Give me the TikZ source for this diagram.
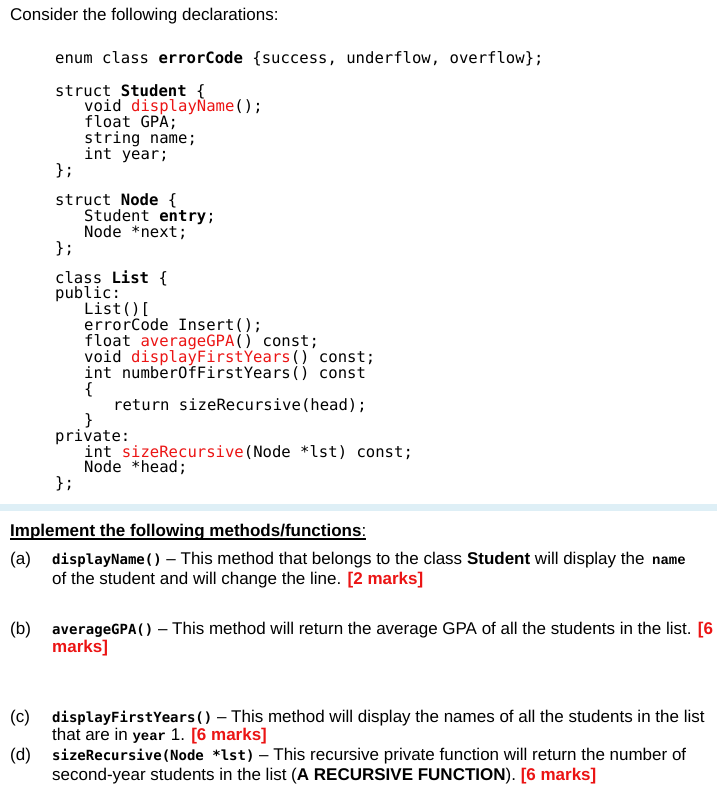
\documentclass[tikz,border=0pt]{standalone}
\usepackage{fontspec}
\setmainfont{Liberation Sans}
\newfontfamily\cmmono{DejaVu Sans Mono}
\newfontfamily\crmono{Liberation Mono}
\definecolor{rd}{RGB}{235,20,20}
\definecolor{band}{RGB}{222,239,246}
\begin{document}
\begin{tikzpicture}[x=1pt,y=-1pt,
  cl/.style={anchor=base west,inner sep=0pt,font=\cmmono\fontsize{15.6}{16}\selectfont},
  tx/.style={anchor=base west,inner sep=0pt,font=\fontsize{17}{19}\selectfont}]
\useasboundingbox (0,0) rectangle (717,796);
\fill[band] (0,504) rectangle (717,511);
\node[tx] (t0) at (10,20) {Consider the following declarations:};
% code
\node[cl] (c1) at (55,63) {enum class \textbf{errorCode} \{success, underflow, overflow\};};
\node[cl] (c2) at (55,96) {struct \textbf{Student} \{};
\node[cl] (c3) at (84,111) {void \textcolor{rd}{displayName}();};
\node[cl] (c4) at (84,127) {float GPA;};
\node[cl] (c5) at (84,143) {string name;};
\node[cl] (c6) at (84,159) {int year;};
\node[cl] (c7) at (55,175) {\};};
\node[cl] (c8) at (55,205) {struct \textbf{Node} \{};
\node[cl] (c9) at (84,221) {Student \textbf{entry};};
\node[cl] (c10) at (84,237) {Node *next;};
\node[cl] (c11) at (55,253) {\};};
\node[cl] (c12) at (55,283) {class \textbf{List} \{};
\node[cl] (c13) at (55,298) {public:};
\node[cl] (c14) at (84,314) {List()[};
\node[cl] (c15) at (84,330) {errorCode Insert();};
\node[cl] (c16) at (84,346) {float \textcolor{rd}{averageGPA}() const;};
\node[cl] (c17) at (84,362) {void \textcolor{rd}{displayFirstYears}() const;};
\node[cl] (c18) at (84,378) {int numberOfFirstYears() const};
\node[cl] (c19) at (84,394) {\{};
\node[cl] (c20) at (113,410) {return sizeRecursive(head);};
\node[cl] (c21) at (84,425) {\}};
\node[cl] (c22) at (55,441) {private:};
\node[cl] (c23) at (84,457) {int \textcolor{rd}{sizeRecursive}(Node *lst) const;};
\node[cl] (c24) at (84,472) {Node *head;};
\node[cl] (c25) at (55,488) {\};};
% questions
\node[tx] (h) at (10,536) {\textbf{Implement the following methods/functions}:};
\draw[line width=1.2pt] (10,539) -- (h.base east |- 0,539);
\node[tx] (qa) at (10,564) {(a)};
\node[tx] (qa1) at (52,564) {{\cmmono\fontsize{14}{16}\selectfont\bfseries displayName()} -- This method that belongs to the class \textbf{Student} will display the \,{\crmono\bfseries\fontsize{14}{16}\selectfont name}};
\node[tx] (qa2) at (52,584) {of the student and will change the line. \textcolor{rd}{\textbf{[2 marks]}}};
\node[tx] (qb) at (10,634) {(b)};
\node[tx] (qb1) at (52,634) {{\cmmono\fontsize{14}{16}\selectfont\bfseries averageGPA()} -- This method will return the average GPA of all the students in the list. \textcolor{rd}{\textbf{[6}}};
\node[tx] (qb2) at (52,652) {\textcolor{rd}{\textbf{marks]}}};
\node[tx] (qc) at (10,722) {(c)};
\node[tx] (qc1) at (52,722) {{\cmmono\fontsize{14}{16}\selectfont\bfseries displayFirstYears()} -- This method will display the names of all the students in the list};
\node[tx] (qc2) at (52,740) {that are in {\crmono\bfseries\fontsize{14}{16}\selectfont year} 1. \textcolor{rd}{\textbf{[6 marks]}}};
\node[tx] (qd) at (10,760) {(d)};
\node[tx] (qd1) at (52,760) {{\cmmono\fontsize{14}{16}\selectfont\bfseries sizeRecursive(Node *lst)} -- This recursive private function will return the number of};
\node[tx] (qd2) at (52,780) {second-year students in the list (\textbf{A RECURSIVE FUNCTION}). \textcolor{rd}{\textbf{[6 marks]}}};
\end{tikzpicture}
\end{document}
